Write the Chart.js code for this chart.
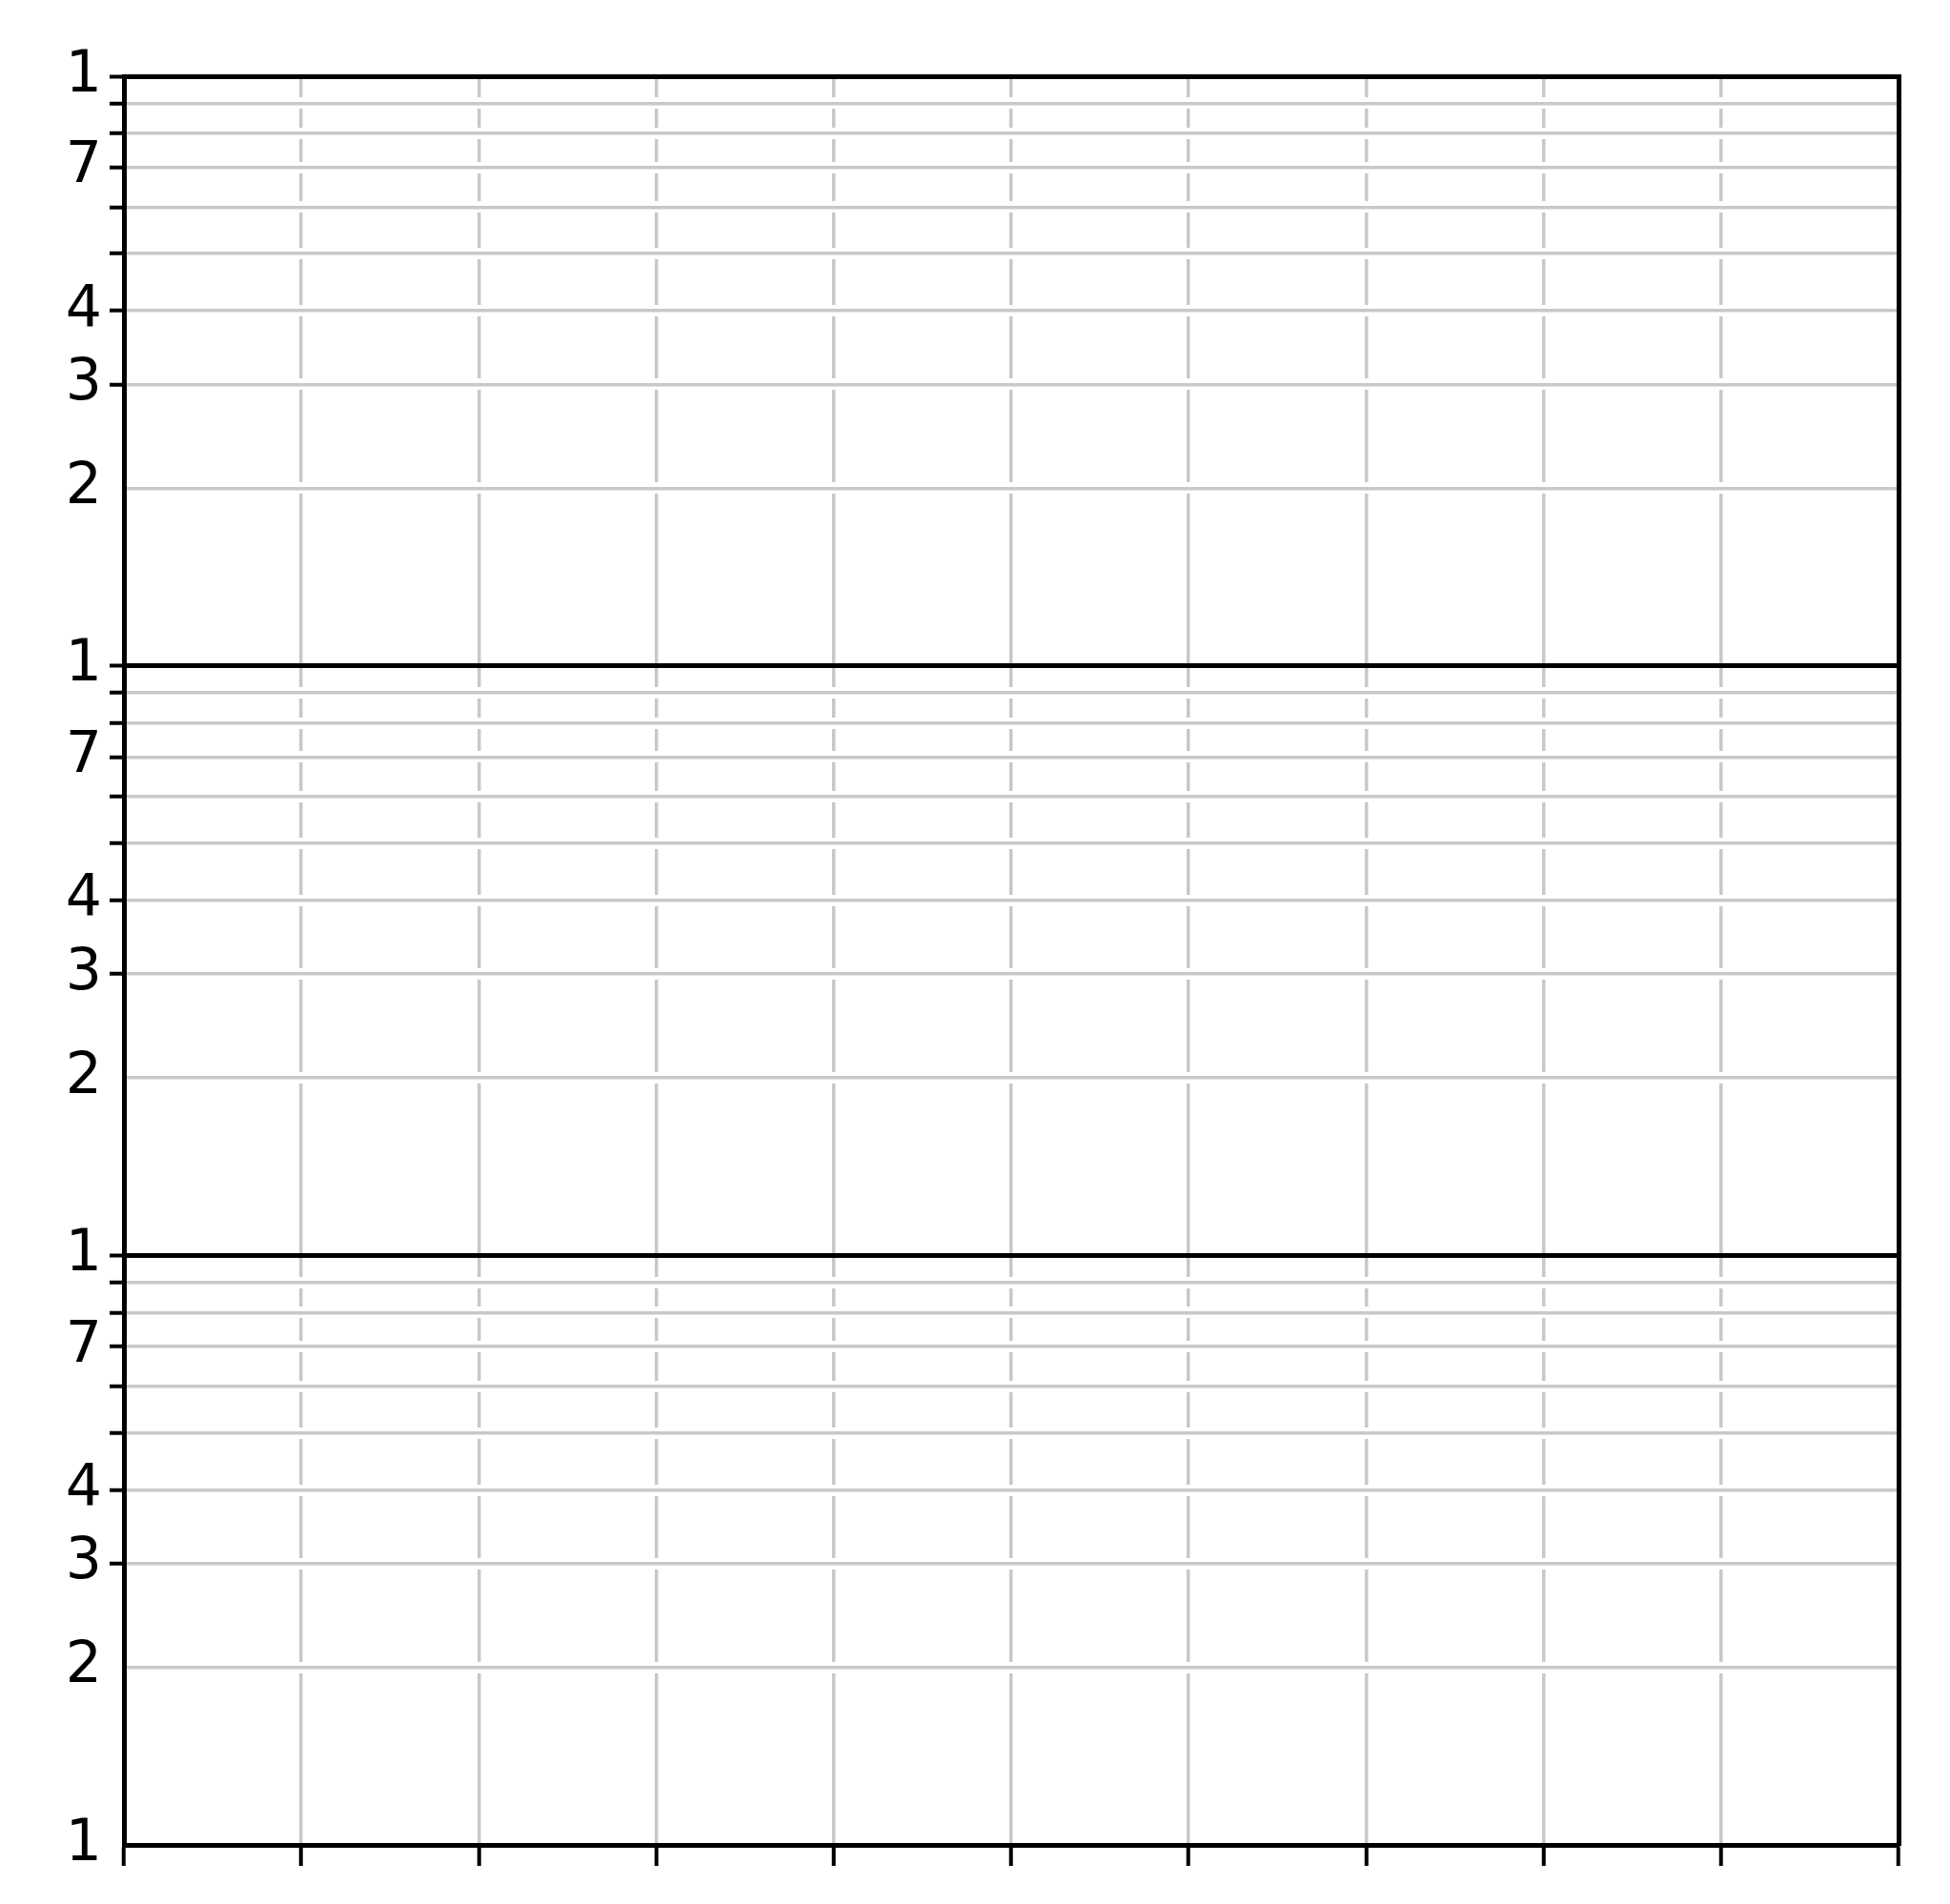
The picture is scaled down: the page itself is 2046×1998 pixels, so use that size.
<!DOCTYPE html>
<html>
<head>
<meta charset="utf-8">
<script src="https://cdn.jsdelivr.net/npm/chart.js@4"></script>
<style>
  html, body { margin: 0; padding: 0; background: #fff; }
  #wrap { width: 2046px; height: 1998px; position: relative; }
</style>
</head>
<body>
<div id="wrap"><canvas id="chart"></canvas></div>
<script>
// three-cycle semi-log paper, no series plotted
const yTickValues = [1, 2, 3, 4, 5, 6, 7, 8, 9,
                     10, 20, 30, 40, 50, 60, 70, 80, 90,
                     100, 200, 300, 400, 500, 600, 700, 800, 900, 1000];
const yDecades = [1, 10, 100, 1000];
const yLabelled = {1: '1', 2: '2', 3: '3', 4: '4', 7: '7',
                   10: '1', 20: '2', 30: '3', 40: '4', 70: '7',
                   100: '1', 200: '2', 300: '3', 400: '4', 700: '7', 1000: '1'};
const yNoMark = [1, 2, 20, 200];
const xTickValues = [0, 1, 2, 3, 4, 5, 6, 7, 8, 9, 10];

const gridGray = '#c8c8c8';

const ctx = document.getElementById('chart').getContext('2d');

new Chart(ctx, {
    type: 'line',
    data: {
        datasets: []
    },
    options: {
        responsive: true,
        maintainAspectRatio: false,
        devicePixelRatio: 1,
        animation: false,
        layout: {
            padding: {top: 80, right: 54, bottom: 40, left: 0}
        },
        plugins: {
            legend: {display: false},
            tooltip: {enabled: false}
        },
        scales: {
            x: {
                type: 'linear',
                position: 'bottom',
                min: 0,
                max: 10,
                afterBuildTicks: (scale) => {
                    scale.ticks = xTickValues.map(v => ({value: v}));
                },
                ticks: {display: false, autoSkip: false},
                grid: {
                    z: -3,
                    color: (c) => (c.tick && (c.tick.value === 0 || c.tick.value === 10)) ? 'rgba(0,0,0,0)' : gridGray,
                    lineWidth: 3.5,
                    tickColor: '#000',
                    tickWidth: 4,
                    tickLength: 22
                },
                border: {display: true, color: '#000', width: 5}
            },
            xTop: {
                type: 'linear',
                position: 'top',
                min: 0,
                max: 10,
                ticks: {display: false},
                grid: {display: false, drawTicks: false},
                border: {display: true, color: '#000', width: 5},
                afterFit: (scale) => { scale.height = 0; }
            },
            yWhite: {
                type: 'logarithmic',
                position: 'left',
                min: 1,
                max: 1000,
                afterBuildTicks: (scale) => {
                    scale.ticks = yTickValues.filter(v => !yDecades.includes(v)).map(v => ({value: v}));
                },
                ticks: {display: false, autoSkip: false},
                grid: {z: -2, color: '#fff', lineWidth: 12, drawTicks: false},
                border: {display: false},
                afterFit: (scale) => { scale.width = 0; }
            },
            y: {
                type: 'logarithmic',
                position: 'left',
                min: 1,
                max: 1000,
                afterBuildTicks: (scale) => {
                    scale.ticks = yTickValues.map(v => ({value: v}));
                },
                ticks: {
                    autoSkip: false,
                    padding: 8,
                    color: '#000',
                    font: {family: 'DejaVu Sans', size: 60},
                    callback: (value) => yLabelled[value] || ''
                },
                grid: {
                    z: -1,
                    color: (c) => (c.tick && yDecades.includes(c.tick.value)) ? '#000' : gridGray,
                    lineWidth: (c) => (c.tick && yDecades.includes(c.tick.value)) ? 5 : 3.5,
                    tickColor: (c) => (c.tick && yNoMark.includes(c.tick.value)) ? 'rgba(0,0,0,0)' : '#000',
                    tickWidth: 4,
                    tickLength: 15
                },
                border: {display: true, color: '#000', width: 5},
                afterFit: (scale) => { scale.width = 130; }
            },
            yRight: {
                type: 'linear',
                position: 'right',
                min: 0,
                max: 1,
                ticks: {display: false},
                grid: {display: false, drawTicks: false},
                border: {display: true, color: '#000', width: 5},
                afterFit: (scale) => { scale.width = 0; }
            }
        }
    }
});
</script>
</body>
</html>
